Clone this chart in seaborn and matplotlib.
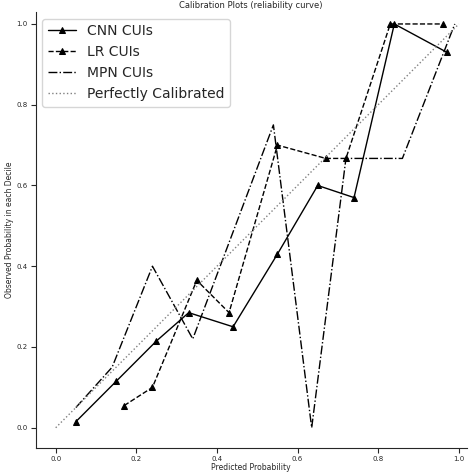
import matplotlib
matplotlib.use("Agg")
import matplotlib.pyplot as plt
import seaborn as sns

cnn_x = [0.05, 0.15, 0.25, 0.33, 0.44, 0.55, 0.65, 0.74, 0.84, 0.97]
cnn_y = [0.015, 0.115, 0.215, 0.285, 0.25, 0.43, 0.60, 0.57, 1.0, 0.93]
lr_x = [0.17, 0.24, 0.35, 0.43, 0.55, 0.67, 0.72, 0.83, 0.96]
lr_y = [0.055, 0.10, 0.365, 0.285, 0.70, 0.667, 0.667, 1.0, 1.0]
mpn_x = [0.05, 0.14, 0.24, 0.34, 0.54, 0.635, 0.72, 0.86, 0.99]
mpn_y = [0.05, 0.15, 0.40, 0.22, 0.75, 0.0, 0.667, 0.667, 1.0]
diag = [0.0, 1.0]

sns.set_style("ticks")
fig, ax = plt.subplots(figsize=(4.74, 4.74), dpi=100)
sns.lineplot(x=cnn_x, y=cnn_y, ax=ax, color="black", lw=1, marker="^", ms=4,
             markeredgecolor="black", label="CNN CUIs", sort=False)
sns.lineplot(x=lr_x, y=lr_y, ax=ax, color="black", lw=1, ls="--", marker="^", ms=4,
             markeredgecolor="black", label="LR CUIs", sort=False)
sns.lineplot(x=mpn_x, y=mpn_y, ax=ax, color="black", lw=1, ls="-.", label="MPN CUIs", sort=False)
sns.lineplot(x=diag, y=diag, ax=ax, color="gray", lw=1, ls=":", label="Perfectly Calibrated")
ax.set_xlim(-0.05, 1.02)
ax.set_ylim(-0.05, 1.03)
ax.set_xticks([0, 0.2, 0.4, 0.6, 0.8, 1.0])
ax.set_yticks([0, 0.2, 0.4, 0.6, 0.8, 1.0])
ax.tick_params(labelsize=5, pad=2)
ax.set_title("Calibration Plots (reliability curve)", fontsize=6, pad=3)
ax.set_xlabel("Predicted Probability", fontsize=5.5, labelpad=1)
ax.set_ylabel("Observed Probability in each Decile", fontsize=5.5, labelpad=2)
ax.legend(loc="upper left", fontsize=10, frameon=True)
sns.despine(ax=ax)
fig.subplots_adjust(left=0.075, right=0.985, bottom=0.055, top=0.975)
fig.savefig("out.png", dpi=100)
